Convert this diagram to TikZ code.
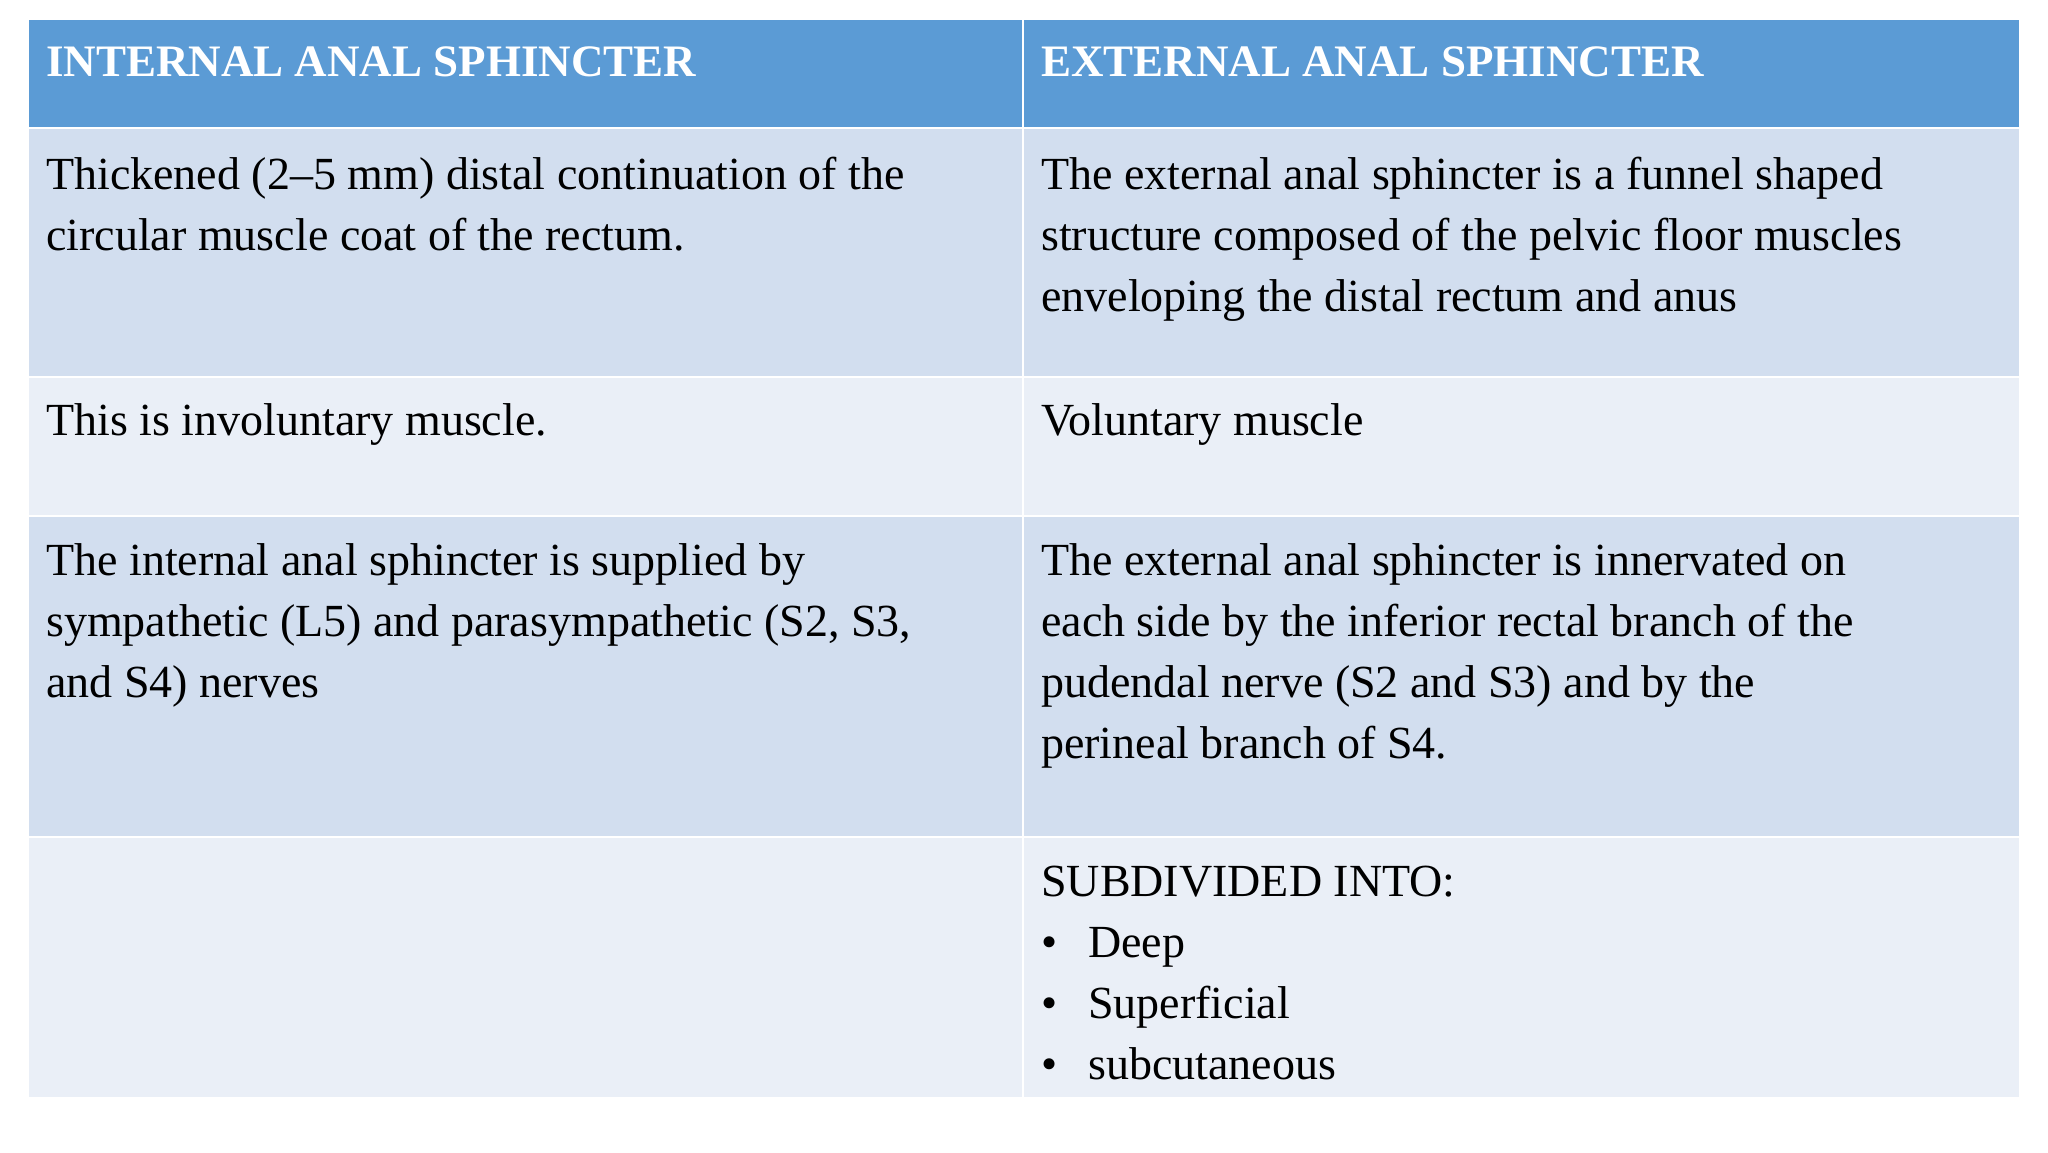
\documentclass[tikz,border=0pt]{standalone}
\usepackage{fontspec}
\setmainfont{Liberation Serif}
\definecolor{hdr}{HTML}{5B9BD5}
\definecolor{rowa}{HTML}{D2DEEF}
\definecolor{rowb}{HTML}{EAEFF7}
\begin{document}
\begin{tikzpicture}[x=1pt,y=-1pt,
  txt/.style={anchor=base west,inner sep=0,font=\fontsize{46}{60}\selectfont},
  hd/.style={txt,font=\fontsize{45}{60}\selectfont\bfseries,text=white}]
\useasboundingbox (0,0) rectangle (2048,1152);
\fill[white] (0,0) rectangle (2048,1152);
\fill[hdr] (29,20) rectangle (2019,128);
\fill[rowa] (29,128) rectangle (2019,377);
\fill[rowb] (29,377) rectangle (2019,516);
\fill[rowa] (29,516) rectangle (2019,837);
\fill[rowb] (29,837) rectangle (2019,1097);
\foreach \y in {128,377,516,837} \draw[white,line width=2.5pt] (29,\y) -- (2019,\y);
\draw[white,line width=2.5pt] (1023,20) -- (1023,1097);
\node[hd] (h1) at (46,76) {INTERNAL ANAL SPHINCTER};
\node[hd] (h2) at (1041,76) {EXTERNAL ANAL SPHINCTER};
\node[txt] (a1) at (46,189) {Thickened (2–5 mm) distal continuation of the};
\node[txt] (a2) at (46,250) {circular muscle coat of the rectum.};
\node[txt] (b1) at (1041,189) {The external anal sphincter is a funnel shaped};
\node[txt] (b2) at (1041,250) {structure composed of the pelvic floor muscles};
\node[txt] (b3) at (1041,311) {enveloping the distal rectum and anus};
\node[txt] (c1) at (46,435) {This is involuntary muscle.};
\node[txt] (d1) at (1041,435) {Voluntary muscle};
\node[txt] (e1) at (46,575) {The internal anal sphincter is supplied by};
\node[txt] (e2) at (46,636) {sympathetic (L5) and parasympathetic (S2, S3,};
\node[txt] (e3) at (46,697) {and S4) nerves};
\node[txt] (f1) at (1041,575) {The external anal sphincter is innervated on};
\node[txt] (f2) at (1041,636) {each side by the inferior rectal branch of the};
\node[txt] (f3) at (1041,697) {pudendal nerve (S2 and S3) and by the};
\node[txt] (f4) at (1041,758) {perineal branch of S4.};
\node[txt] (g1) at (1041,896) {SUBDIVIDED INTO:};
\foreach \t/\y [count=\i] in {Deep/957,Superficial/1018,subcutaneous/1079}{
  \node[txt] (gb\i) at (1041,\y) {•};
  \node[txt] (gt\i) at (1088,\y) {\t};
}
\end{tikzpicture}
\end{document}
